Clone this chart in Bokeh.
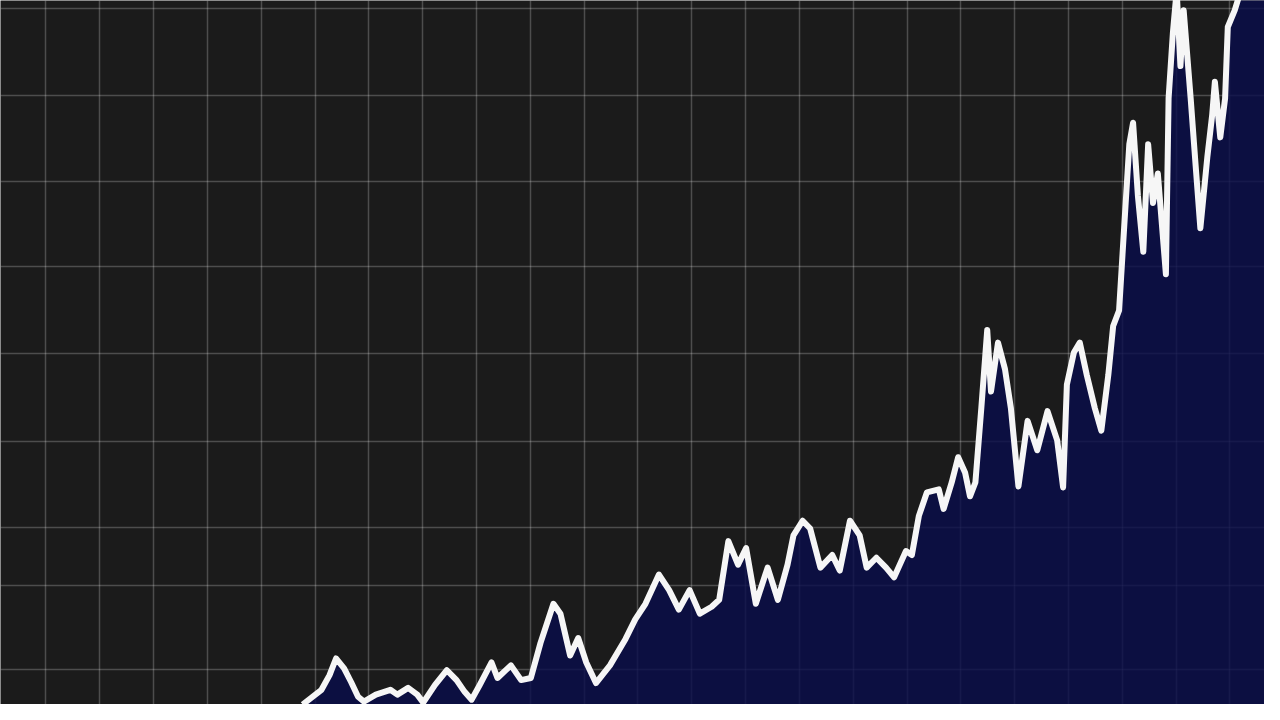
from bokeh.plotting import figure
from bokeh.models import FixedTicker, Range1d, ColumnDataSource
from bokeh.embed import file_html
from bokeh.resources import INLINE

# Time (fractional years) and price values
years = [2006.77, 2007.12, 2007.27, 2007.39, 2007.54, 2007.67, 2007.80, 2007.91, 2008.13, 2008.40,
         2008.53, 2008.73, 2008.90, 2009.01, 2009.23, 2009.45, 2009.63, 2009.78, 2009.91, 2010.06,
         2010.28, 2010.39, 2010.64, 2010.83, 2011.01, 2011.19, 2011.43, 2011.56, 2011.74, 2011.89,
         2012.04, 2012.22, 2012.48, 2012.77, 2012.95, 2013.14, 2013.39, 2013.58, 2013.76, 2013.96,
         2014.15, 2014.37, 2014.51, 2014.68, 2014.86, 2015.01, 2015.19, 2015.41, 2015.60, 2015.78,
         2015.89, 2016.06, 2016.20, 2016.39, 2016.61, 2016.75, 2016.94, 2017.12, 2017.25, 2017.43,
         2017.61, 2017.76, 2017.98, 2018.09, 2018.22, 2018.37, 2018.59, 2018.68, 2018.83, 2018.95,
         2019.08, 2019.17, 2019.27, 2019.38, 2019.49, 2019.56, 2019.69, 2019.82, 2019.93, 2020.07,
         2020.24, 2020.42, 2020.61, 2020.79, 2020.90, 2020.97, 2021.10, 2021.21, 2021.34, 2021.49,
         2021.61, 2021.74, 2021.83, 2021.94, 2022.04, 2022.13, 2022.20, 2022.29, 2022.39, 2022.48,
         2022.57, 2022.66, 2022.81, 2022.86, 2022.94, 2023.01, 2023.08, 2023.14, 2023.27, 2023.36,
         2023.45, 2023.58, 2023.67, 2023.72, 2023.82, 2023.91, 2023.96, 2024.09, 2024.20, 2024.73]

prices = [0.0, 8.5, 17.0, 26.6, 20.9, 13.0, 4.5, 1.7, 5.7, 8.5,
          5.7, 9.6, 5.7, 1.1, 11.3, 19.8, 14.1, 7.3, 2.8, 11.3,
          24.3, 15.3, 22.6, 14.1, 15.3, 35.6, 58.2, 52.5, 28.3, 38.4,
          24.3, 12.4, 22.6, 37.9, 49.2, 58.2, 75.1, 66.1, 54.8, 66.1,
          52.5, 56.5, 60.5, 94.4, 80.8, 90.4, 58.2, 79.1, 60.5, 80.8,
          97.7, 106.2, 101.7, 79.1, 86.4, 77.4, 106.2, 97.7, 79.1, 84.8,
          79.1, 73.5, 88.7, 86.4, 109.0, 122.6, 124.3, 113.0, 128.3, 142.9,
          133.9, 120.3, 128.3, 171.2, 216.4, 180.8, 209.1, 193.8, 171.2, 126.0,
          163.9, 146.9, 169.5, 152.6, 125.4, 184.8, 203.4, 209.1, 190.4, 171.2,
          158.2, 190.4, 218.7, 227.7, 278.5, 323.7, 336.2, 293.8, 261.6, 323.7,
          289.8, 306.8, 248.6, 350.3, 388.2, 412.5, 368.9, 401.2, 350.3, 312.4,
          275.2, 316.4, 340.7, 359.9, 327.7, 350.3, 391.5, 401.2, 412.5, 452.0]

grid_years = [2002, 2003, 2004, 2005, 2006, 2007, 2008, 2009, 2010, 2011, 2012, 2013,
              2014, 2015, 2016, 2017, 2018, 2019, 2020, 2021, 2022, 2023, 2024]
grid_prices = [20, 69, 102, 152, 203, 253, 302, 352, 402]

BG = "#1b1b1b"

src = ColumnDataSource(data=dict(x=years, y=prices, base=[0] * len(prices)))

p = figure(width=1264, height=704, output_backend="svg", toolbar_location=None,
           x_range=Range1d(2001.156, 2024.642), y_range=Range1d(0, 406.8),
           min_border=0, background_fill_color=BG, border_fill_color=BG,
           outline_line_color=None)

p.xaxis.visible = False
p.yaxis.visible = False

p.xgrid.ticker = FixedTicker(ticks=grid_years)
p.ygrid.ticker = FixedTicker(ticks=grid_prices)
for g in (p.xgrid, p.ygrid):
    g.grid_line_color = "#ffffff"
    g.grid_line_alpha = 0.22
    g.grid_line_width = 1.5

p.varea(x="x", y1="base", y2="y", source=src, fill_color="#0a0d4a", fill_alpha=0.82)

ln = p.line(x="x", y="y", source=src, line_color="#f6f6f6", line_width=6, line_join="round")
ln.level = "overlay"

html = file_html(p, INLINE)
html = html.replace("<body>", '<body style="background:#1b1b1b">', 1)
open("out.html", "w").write(html)
